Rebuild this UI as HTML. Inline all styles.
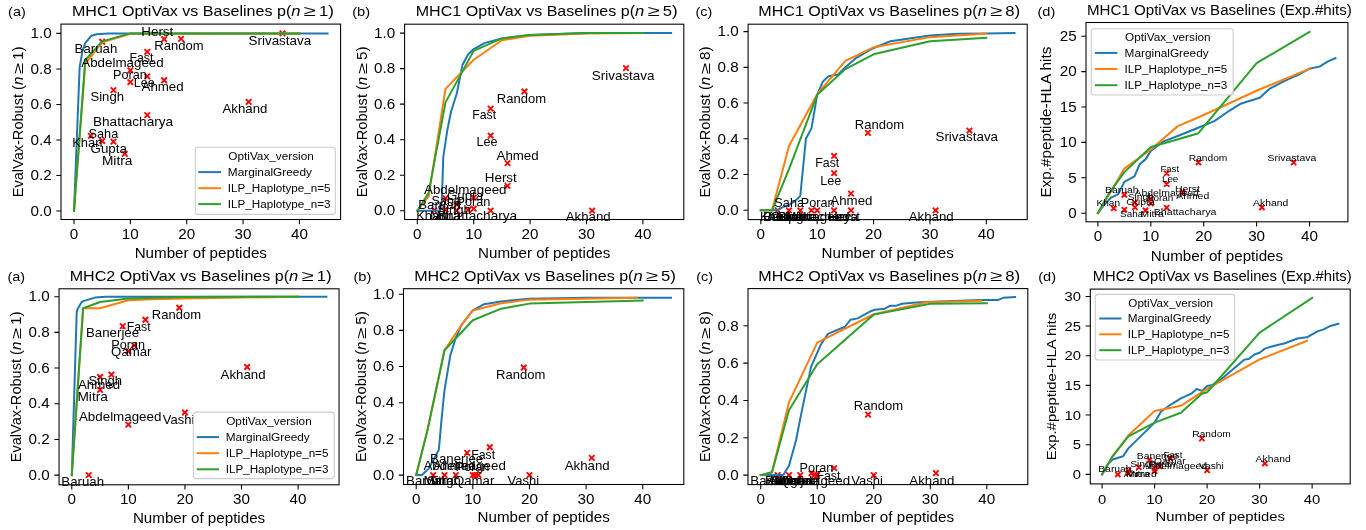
<!DOCTYPE html>
<html><head><meta charset="utf-8"><style>
html,body{margin:0;padding:0;background:#fff;}
svg{display:block;filter:blur(0.3px);}
text{font-family:"Liberation Sans",sans-serif;white-space:pre;}
</style></head><body>
<svg width="1366" height="530" viewBox="0 0 1366 530">
<rect width="1366" height="530" fill="#fff"/>
<clipPath id="c1"><rect x="61.0" y="24.1" width="279.6" height="195.4"/></clipPath>
<path d="M99.42,39.00L104.92,44.50M99.42,44.50L104.92,39.00M144.50,49.12L150.00,54.62M144.50,54.62L150.00,49.12M161.41,36.33L166.91,41.83M161.41,41.83L166.91,36.33M178.31,36.16L183.81,41.66M178.31,41.66L183.81,36.16M279.75,30.65L285.25,36.15M279.75,36.15L285.25,30.65M127.60,67.59L133.10,73.09M127.60,73.09L133.10,67.59M144.50,73.63L150.00,79.13M144.50,79.13L150.00,73.63M127.60,79.31L133.10,84.81M127.60,84.81L133.10,79.31M161.41,77.54L166.91,83.04M161.41,83.04L166.91,77.54M110.69,87.30L116.19,92.80M110.69,92.80L116.19,87.30M245.94,99.20L251.44,104.70M245.94,104.70L251.44,99.20M144.50,112.35L150.00,117.85M144.50,117.85L150.00,112.35M88.16,133.13L93.66,138.63M88.16,138.63L93.66,133.13M99.42,138.28L104.92,143.78M99.42,143.78L104.92,138.28M110.69,138.81L116.19,144.31M110.69,144.31L116.19,138.81M121.97,151.06L127.47,156.56M121.97,156.56L127.47,151.06" stroke="#ff0000" stroke-width="1.9" fill="none" clip-path="url(#c1)"/>
<path d="M74.00,211.00 L79.64,67.14 L82.45,51.16 L85.27,43.17 L90.91,36.06 L96.54,34.29 L107.81,33.40 L327.57,33.40" stroke="#1f77b4" stroke-width="2.0" fill="none" stroke-linejoin="round" stroke-linecap="square" clip-path="url(#c1)"/>
<path d="M74.00,211.00 L85.27,63.59 L102.17,42.28 L130.35,33.76 L299.40,33.40" stroke="#ff7f0e" stroke-width="2.0" fill="none" stroke-linejoin="round" stroke-linecap="square" clip-path="url(#c1)"/>
<path d="M74.00,211.00 L85.27,60.04 L102.17,41.39 L130.35,33.40 L299.40,33.40" stroke="#2ca02c" stroke-width="2.0" fill="none" stroke-linejoin="round" stroke-linecap="square" clip-path="url(#c1)"/>
<rect x="61.0" y="24.1" width="279.60" height="195.40" fill="none" stroke="#000" stroke-width="1.07"/>
<text x="69.77" y="238.80" font-size="13.83" textLength="8.46" lengthAdjust="spacingAndGlyphs" fill="#000">0</text>
<text x="121.89" y="238.80" font-size="13.83" textLength="16.92" lengthAdjust="spacingAndGlyphs" fill="#000">10</text>
<text x="178.24" y="238.80" font-size="13.83" textLength="16.92" lengthAdjust="spacingAndGlyphs" fill="#000">20</text>
<text x="234.59" y="238.80" font-size="13.83" textLength="16.92" lengthAdjust="spacingAndGlyphs" fill="#000">30</text>
<text x="290.94" y="238.80" font-size="13.83" textLength="16.92" lengthAdjust="spacingAndGlyphs" fill="#000">40</text>
<text x="30.52" y="215.75" font-size="13.83" textLength="21.15" lengthAdjust="spacingAndGlyphs" fill="#000">0.0</text>
<text x="30.52" y="180.23" font-size="13.83" textLength="21.15" lengthAdjust="spacingAndGlyphs" fill="#000">0.2</text>
<text x="30.52" y="144.71" font-size="13.83" textLength="21.15" lengthAdjust="spacingAndGlyphs" fill="#000">0.4</text>
<text x="30.52" y="109.19" font-size="13.83" textLength="21.15" lengthAdjust="spacingAndGlyphs" fill="#000">0.6</text>
<text x="30.52" y="73.67" font-size="13.83" textLength="21.15" lengthAdjust="spacingAndGlyphs" fill="#000">0.8</text>
<text x="30.52" y="38.15" font-size="13.83" textLength="21.15" lengthAdjust="spacingAndGlyphs" fill="#000">1.0</text>
<path d="M74.00,219.50v4.67M130.35,219.50v4.67M186.70,219.50v4.67M243.05,219.50v4.67M299.40,219.50v4.67M61.00,211.00h-4.67M61.00,175.48h-4.67M61.00,139.96h-4.67M61.00,104.44h-4.67M61.00,68.92h-4.67M61.00,33.40h-4.67" stroke="#000" stroke-width="1.07"/>
<text x="134.68" y="258.20" font-size="13.83" textLength="132.24" lengthAdjust="spacingAndGlyphs" fill="#000">Number of peptides</text>
<text x="141.26" y="36.40" font-size="12.38" textLength="32.03" lengthAdjust="spacingAndGlyphs" fill="#000">Herst</text>
<text x="74.56" y="53.10" font-size="12.38" textLength="42.73" lengthAdjust="spacingAndGlyphs" fill="#000">Baruah</text>
<text x="154.36" y="50.00" font-size="12.38" textLength="49.27" lengthAdjust="spacingAndGlyphs" fill="#000">Random</text>
<text x="248.58" y="44.90" font-size="12.38" textLength="62.58" lengthAdjust="spacingAndGlyphs" fill="#000">Srivastava</text>
<text x="81.23" y="67.00" font-size="12.38" textLength="82.51" lengthAdjust="spacingAndGlyphs" fill="#000">Abdelmageed</text>
<text x="129.46" y="62.40" font-size="12.38" textLength="23.91" lengthAdjust="spacingAndGlyphs" fill="#000">Fast</text>
<text x="112.96" y="79.40" font-size="12.38" textLength="33.76" lengthAdjust="spacingAndGlyphs" fill="#000">Poran</text>
<text x="133.66" y="87.00" font-size="12.38" textLength="21.06" lengthAdjust="spacingAndGlyphs" fill="#000">Lee</text>
<text x="141.53" y="90.80" font-size="12.38" textLength="42.15" lengthAdjust="spacingAndGlyphs" fill="#000">Ahmed</text>
<text x="90.48" y="100.60" font-size="12.38" textLength="33.50" lengthAdjust="spacingAndGlyphs" fill="#000">Singh</text>
<text x="222.43" y="113.20" font-size="12.38" textLength="44.96" lengthAdjust="spacingAndGlyphs" fill="#000">Akhand</text>
<text x="92.96" y="126.30" font-size="12.38" textLength="80.23" lengthAdjust="spacingAndGlyphs" fill="#000">Bhattacharya</text>
<text x="88.58" y="137.60" font-size="12.38" textLength="29.68" lengthAdjust="spacingAndGlyphs" fill="#000">Saha</text>
<text x="72.16" y="147.00" font-size="12.38" textLength="30.18" lengthAdjust="spacingAndGlyphs" fill="#000">Khan</text>
<text x="90.60" y="152.70" font-size="12.38" textLength="36.28" lengthAdjust="spacingAndGlyphs" fill="#000">Gupta</text>
<text x="101.96" y="165.00" font-size="12.38" textLength="30.42" lengthAdjust="spacingAndGlyphs" fill="#000">Mitra</text>
<rect x="195.3" y="147.2" width="140.00" height="67.20" rx="2.5" fill="#fff" fill-opacity="0.8" stroke="#cccccc" stroke-width="1.07"/>
<text x="228.32" y="160.20" font-size="11.02" textLength="85.49" lengthAdjust="spacingAndGlyphs" fill="#000">OptiVax_version</text>
<path d="M198.30,172.10H221.00" stroke="#1f77b4" stroke-width="2.0"/>
<text x="227.84" y="176.00" font-size="11.02" textLength="84.03" lengthAdjust="spacingAndGlyphs" fill="#000">MarginalGreedy</text>
<path d="M198.30,188.20H221.00" stroke="#ff7f0e" stroke-width="2.0"/>
<text x="227.84" y="192.10" font-size="11.02" textLength="102.67" lengthAdjust="spacingAndGlyphs" fill="#000">ILP_Haplotype_n=5</text>
<path d="M198.30,204.10H221.00" stroke="#2ca02c" stroke-width="2.0"/>
<text x="227.84" y="208.00" font-size="11.02" textLength="102.67" lengthAdjust="spacingAndGlyphs" fill="#000">ILP_Haplotype_n=3</text>
<g transform="translate(71.94,15.80)"><text x="0.00" y="0" font-size="15.18" textLength="219.32" lengthAdjust="spacingAndGlyphs">MHC1 OptiVax vs Baselines p(</text><text x="219.32" y="0" font-size="15.18" textLength="9.26" lengthAdjust="spacingAndGlyphs" font-style="italic">n</text><text x="231.65" y="0" font-size="15.18" textLength="12.23" lengthAdjust="spacingAndGlyphs">≥</text><text x="246.95" y="0" font-size="15.18" textLength="9.29" lengthAdjust="spacingAndGlyphs">1</text><text x="256.24" y="0" font-size="15.18" textLength="5.70" lengthAdjust="spacingAndGlyphs">)</text></g>
<text x="8.13" y="15.70" font-size="13.10" textLength="17.55" lengthAdjust="spacingAndGlyphs" fill="#000">(a)</text>
<g transform="translate(23.10,121.80) rotate(-90)"><text x="-75.52" y="0" font-size="13.83" textLength="112.22" lengthAdjust="spacingAndGlyphs">EvalVax-Robust (</text><text x="36.70" y="0" font-size="13.83" textLength="8.43" lengthAdjust="spacingAndGlyphs" font-style="italic">n</text><text x="47.93" y="0" font-size="13.83" textLength="11.15" lengthAdjust="spacingAndGlyphs">≥</text><text x="61.87" y="0" font-size="13.83" textLength="8.46" lengthAdjust="spacingAndGlyphs">1</text><text x="70.33" y="0" font-size="13.83" textLength="5.19" lengthAdjust="spacingAndGlyphs">)</text></g>
<clipPath id="c2"><rect x="404.6" y="24.2" width="279.19999999999993" height="195.3"/></clipPath>
<path d="M521.71,88.78L527.21,94.28M521.71,94.28L527.21,88.78M487.87,105.83L493.37,111.33M487.87,111.33L493.37,105.83M487.87,132.83L493.37,138.33M487.87,138.33L493.37,132.83M504.79,160.35L510.29,165.85M504.79,165.85L510.29,160.35M504.79,183.09L510.29,188.59M504.79,188.59L510.29,183.09M623.23,65.34L628.73,70.84M623.23,70.84L628.73,65.34M589.39,207.95L594.89,213.45M589.39,213.45L594.89,207.95M442.75,195.52L448.25,201.02M442.75,201.02L448.25,195.52M470.95,194.81L476.45,200.31M470.95,200.31L476.45,194.81M454.03,201.91L459.53,207.41M454.03,207.41L459.53,201.91M465.31,207.06L470.81,212.56M465.31,212.56L470.81,207.06M470.95,205.82L476.45,211.32M470.95,211.32L476.45,205.82M487.87,207.95L493.37,213.45M487.87,213.45L493.37,207.95M431.47,207.95L436.97,213.45M431.47,213.45L436.97,207.95M442.75,206.71L448.25,212.21M442.75,212.21L448.25,206.71M454.03,207.95L459.53,213.45M454.03,213.45L459.53,207.95" stroke="#ff0000" stroke-width="1.9" fill="none" clip-path="url(#c2)"/>
<path d="M417.30,210.70 L439.86,210.70 L441.83,201.82 L443.24,157.42 L447.19,130.78 L451.14,111.24 L456.78,93.48 L462.42,65.07 L468.06,54.41 L473.70,49.08 L484.98,42.87 L501.90,38.43 L530.10,34.88 L586.50,33.10 L671.10,33.10" stroke="#1f77b4" stroke-width="2.0" fill="none" stroke-linejoin="round" stroke-linecap="square" clip-path="url(#c2)"/>
<path d="M417.30,210.70 L428.58,196.49 L445.50,88.87 L473.70,59.74 L501.90,40.20 L530.10,35.76 L586.50,33.46 L642.90,33.10" stroke="#ff7f0e" stroke-width="2.0" fill="none" stroke-linejoin="round" stroke-linecap="square" clip-path="url(#c2)"/>
<path d="M417.30,210.70 L428.58,192.94 L445.50,102.36 L473.70,50.86 L501.90,38.43 L530.10,34.88 L586.50,33.10 L642.90,33.10" stroke="#2ca02c" stroke-width="2.0" fill="none" stroke-linejoin="round" stroke-linecap="square" clip-path="url(#c2)"/>
<rect x="404.6" y="24.2" width="279.20" height="195.30" fill="none" stroke="#000" stroke-width="1.07"/>
<text x="413.07" y="238.80" font-size="13.83" textLength="8.46" lengthAdjust="spacingAndGlyphs" fill="#000">0</text>
<text x="465.24" y="238.80" font-size="13.83" textLength="16.92" lengthAdjust="spacingAndGlyphs" fill="#000">10</text>
<text x="521.64" y="238.80" font-size="13.83" textLength="16.92" lengthAdjust="spacingAndGlyphs" fill="#000">20</text>
<text x="578.04" y="238.80" font-size="13.83" textLength="16.92" lengthAdjust="spacingAndGlyphs" fill="#000">30</text>
<text x="634.44" y="238.80" font-size="13.83" textLength="16.92" lengthAdjust="spacingAndGlyphs" fill="#000">40</text>
<text x="374.12" y="215.45" font-size="13.83" textLength="21.15" lengthAdjust="spacingAndGlyphs" fill="#000">0.0</text>
<text x="374.12" y="179.93" font-size="13.83" textLength="21.15" lengthAdjust="spacingAndGlyphs" fill="#000">0.2</text>
<text x="374.12" y="144.41" font-size="13.83" textLength="21.15" lengthAdjust="spacingAndGlyphs" fill="#000">0.4</text>
<text x="374.12" y="108.89" font-size="13.83" textLength="21.15" lengthAdjust="spacingAndGlyphs" fill="#000">0.6</text>
<text x="374.12" y="73.37" font-size="13.83" textLength="21.15" lengthAdjust="spacingAndGlyphs" fill="#000">0.8</text>
<text x="374.12" y="37.85" font-size="13.83" textLength="21.15" lengthAdjust="spacingAndGlyphs" fill="#000">1.0</text>
<path d="M417.30,219.50v4.67M473.70,219.50v4.67M530.10,219.50v4.67M586.50,219.50v4.67M642.90,219.50v4.67M404.60,210.70h-4.67M404.60,175.18h-4.67M404.60,139.66h-4.67M404.60,104.14h-4.67M404.60,68.62h-4.67M404.60,33.10h-4.67" stroke="#000" stroke-width="1.07"/>
<text x="478.08" y="258.20" font-size="13.83" textLength="132.24" lengthAdjust="spacingAndGlyphs" fill="#000">Number of peptides</text>
<text x="496.76" y="102.80" font-size="12.38" textLength="49.27" lengthAdjust="spacingAndGlyphs" fill="#000">Random</text>
<text x="472.26" y="119.20" font-size="12.38" textLength="23.91" lengthAdjust="spacingAndGlyphs" fill="#000">Fast</text>
<text x="476.56" y="146.30" font-size="12.38" textLength="21.06" lengthAdjust="spacingAndGlyphs" fill="#000">Lee</text>
<text x="496.53" y="159.50" font-size="12.38" textLength="42.15" lengthAdjust="spacingAndGlyphs" fill="#000">Ahmed</text>
<text x="484.76" y="182.10" font-size="12.38" textLength="32.03" lengthAdjust="spacingAndGlyphs" fill="#000">Herst</text>
<text x="424.03" y="194.40" font-size="12.38" textLength="82.51" lengthAdjust="spacingAndGlyphs" fill="#000">Abdelmageed</text>
<text x="446.90" y="199.50" font-size="12.38" textLength="36.28" lengthAdjust="spacingAndGlyphs" fill="#000">Gupta</text>
<text x="431.58" y="205.40" font-size="12.38" textLength="29.68" lengthAdjust="spacingAndGlyphs" fill="#000">Saha</text>
<text x="456.46" y="205.80" font-size="12.38" textLength="33.76" lengthAdjust="spacingAndGlyphs" fill="#000">Poran</text>
<text x="418.26" y="209.20" font-size="12.38" textLength="42.73" lengthAdjust="spacingAndGlyphs" fill="#000">Baruah</text>
<text x="437.38" y="213.90" font-size="12.38" textLength="33.50" lengthAdjust="spacingAndGlyphs" fill="#000">Singh</text>
<text x="416.16" y="220.30" font-size="12.38" textLength="30.18" lengthAdjust="spacingAndGlyphs" fill="#000">Khan</text>
<text x="429.96" y="220.30" font-size="12.38" textLength="30.42" lengthAdjust="spacingAndGlyphs" fill="#000">Mitra</text>
<text x="436.96" y="220.30" font-size="12.38" textLength="80.23" lengthAdjust="spacingAndGlyphs" fill="#000">Bhattacharya</text>
<text x="591.88" y="79.50" font-size="12.38" textLength="62.58" lengthAdjust="spacingAndGlyphs" fill="#000">Srivastava</text>
<text x="565.73" y="220.90" font-size="12.38" textLength="44.96" lengthAdjust="spacingAndGlyphs" fill="#000">Akhand</text>
<g transform="translate(415.74,15.90)"><text x="0.00" y="0" font-size="15.18" textLength="219.32" lengthAdjust="spacingAndGlyphs">MHC1 OptiVax vs Baselines p(</text><text x="219.32" y="0" font-size="15.18" textLength="9.26" lengthAdjust="spacingAndGlyphs" font-style="italic">n</text><text x="231.65" y="0" font-size="15.18" textLength="12.23" lengthAdjust="spacingAndGlyphs">≥</text><text x="246.95" y="0" font-size="15.18" textLength="9.29" lengthAdjust="spacingAndGlyphs">5</text><text x="256.24" y="0" font-size="15.18" textLength="5.70" lengthAdjust="spacingAndGlyphs">)</text></g>
<text x="352.23" y="15.70" font-size="13.10" textLength="17.83" lengthAdjust="spacingAndGlyphs" fill="#000">(b)</text>
<g transform="translate(366.70,121.85) rotate(-90)"><text x="-75.52" y="0" font-size="13.83" textLength="112.22" lengthAdjust="spacingAndGlyphs">EvalVax-Robust (</text><text x="36.70" y="0" font-size="13.83" textLength="8.43" lengthAdjust="spacingAndGlyphs" font-style="italic">n</text><text x="47.93" y="0" font-size="13.83" textLength="11.15" lengthAdjust="spacingAndGlyphs">≥</text><text x="61.87" y="0" font-size="13.83" textLength="8.46" lengthAdjust="spacingAndGlyphs">5</text><text x="70.33" y="0" font-size="13.83" textLength="5.19" lengthAdjust="spacingAndGlyphs">)</text></g>
<clipPath id="c3"><rect x="748.1" y="24.2" width="279.1" height="195.4"/></clipPath>
<path d="M865.17,130.17L870.67,135.67M865.17,135.67L870.67,130.17M831.34,153.05L836.84,158.55M831.34,158.55L836.84,153.05M831.34,170.38L836.84,175.88M831.34,175.88L836.84,170.38M848.26,190.93L853.76,196.43M848.26,196.43L853.76,190.93M966.66,127.85L972.16,133.35M966.66,133.35L972.16,127.85M932.83,207.55L938.33,213.05M932.83,213.05L938.33,207.55M774.96,207.55L780.46,213.05M774.96,213.05L780.46,207.55M786.24,207.55L791.74,213.05M786.24,213.05L791.74,207.55M797.52,207.55L803.02,213.05M797.52,213.05L803.02,207.55M808.79,207.55L814.29,213.05M808.79,213.05L814.29,207.55M814.43,207.55L819.93,213.05M814.43,213.05L819.93,207.55M831.34,207.55L836.84,213.05M831.34,213.05L836.84,207.55M848.26,207.55L853.76,213.05M848.26,213.05L853.76,207.55" stroke="#ff0000" stroke-width="1.9" fill="none" clip-path="url(#c3)"/>
<path d="M760.80,210.30 L772.08,210.30 L777.71,210.30 L783.35,206.73 L788.99,204.94 L794.63,201.37 L800.27,196.00 L805.90,138.82 L811.54,128.10 L817.18,94.86 L822.82,81.64 L828.46,76.28 L838.04,74.49 L845.37,67.34 L856.65,57.51 L871.87,48.76 L890.47,41.25 L929.94,35.53 L958.13,33.74 L986.32,33.39 L1014.51,33.03" stroke="#1f77b4" stroke-width="2.0" fill="none" stroke-linejoin="round" stroke-linecap="square" clip-path="url(#c3)"/>
<path d="M760.80,210.30 L772.08,210.30 L788.99,145.97 L817.18,94.15 L845.37,60.91 L873.56,47.33 L929.94,37.14 L986.32,33.57" stroke="#ff7f0e" stroke-width="2.0" fill="none" stroke-linejoin="round" stroke-linecap="square" clip-path="url(#c3)"/>
<path d="M760.80,210.30 L772.08,210.30 L788.99,169.20 L817.18,94.86 L845.37,69.13 L873.56,54.29 L929.94,41.25 L986.32,37.85" stroke="#2ca02c" stroke-width="2.0" fill="none" stroke-linejoin="round" stroke-linecap="square" clip-path="url(#c3)"/>
<rect x="748.1" y="24.2" width="279.10" height="195.40" fill="none" stroke="#000" stroke-width="1.07"/>
<text x="756.57" y="238.90" font-size="13.83" textLength="8.46" lengthAdjust="spacingAndGlyphs" fill="#000">0</text>
<text x="808.72" y="238.90" font-size="13.83" textLength="16.92" lengthAdjust="spacingAndGlyphs" fill="#000">10</text>
<text x="865.10" y="238.90" font-size="13.83" textLength="16.92" lengthAdjust="spacingAndGlyphs" fill="#000">20</text>
<text x="921.48" y="238.90" font-size="13.83" textLength="16.92" lengthAdjust="spacingAndGlyphs" fill="#000">30</text>
<text x="977.86" y="238.90" font-size="13.83" textLength="16.92" lengthAdjust="spacingAndGlyphs" fill="#000">40</text>
<text x="717.62" y="215.05" font-size="13.83" textLength="21.15" lengthAdjust="spacingAndGlyphs" fill="#000">0.0</text>
<text x="717.62" y="179.31" font-size="13.83" textLength="21.15" lengthAdjust="spacingAndGlyphs" fill="#000">0.2</text>
<text x="717.62" y="143.57" font-size="13.83" textLength="21.15" lengthAdjust="spacingAndGlyphs" fill="#000">0.4</text>
<text x="717.62" y="107.83" font-size="13.83" textLength="21.15" lengthAdjust="spacingAndGlyphs" fill="#000">0.6</text>
<text x="717.62" y="72.09" font-size="13.83" textLength="21.15" lengthAdjust="spacingAndGlyphs" fill="#000">0.8</text>
<text x="717.62" y="36.35" font-size="13.83" textLength="21.15" lengthAdjust="spacingAndGlyphs" fill="#000">1.0</text>
<path d="M760.80,219.60v4.67M817.18,219.60v4.67M873.56,219.60v4.67M929.94,219.60v4.67M986.32,219.60v4.67M748.10,210.30h-4.67M748.10,174.56h-4.67M748.10,138.82h-4.67M748.10,103.08h-4.67M748.10,67.34h-4.67M748.10,31.60h-4.67" stroke="#000" stroke-width="1.07"/>
<text x="821.53" y="258.30" font-size="13.83" textLength="132.24" lengthAdjust="spacingAndGlyphs" fill="#000">Number of peptides</text>
<text x="854.75" y="129.40" font-size="12.38" textLength="49.27" lengthAdjust="spacingAndGlyphs" fill="#000">Random</text>
<text x="815.36" y="166.80" font-size="12.38" textLength="23.91" lengthAdjust="spacingAndGlyphs" fill="#000">Fast</text>
<text x="820.26" y="184.60" font-size="12.38" textLength="21.06" lengthAdjust="spacingAndGlyphs" fill="#000">Lee</text>
<text x="830.33" y="204.60" font-size="12.38" textLength="42.15" lengthAdjust="spacingAndGlyphs" fill="#000">Ahmed</text>
<text x="774.38" y="206.90" font-size="12.38" textLength="29.68" lengthAdjust="spacingAndGlyphs" fill="#000">Saha</text>
<text x="800.86" y="206.90" font-size="12.38" textLength="33.76" lengthAdjust="spacingAndGlyphs" fill="#000">Poran</text>
<text x="935.48" y="141.30" font-size="12.38" textLength="62.58" lengthAdjust="spacingAndGlyphs" fill="#000">Srivastava</text>
<text x="908.73" y="220.80" font-size="12.38" textLength="44.96" lengthAdjust="spacingAndGlyphs" fill="#000">Akhand</text>
<text x="759.96" y="220.80" font-size="12.38" textLength="30.18" lengthAdjust="spacingAndGlyphs" fill="#000">Khan</text>
<text x="762.96" y="220.80" font-size="12.38" textLength="42.73" lengthAdjust="spacingAndGlyphs" fill="#000">Baruah</text>
<text x="770.50" y="220.80" font-size="12.38" textLength="36.28" lengthAdjust="spacingAndGlyphs" fill="#000">Gupta</text>
<text x="777.38" y="220.80" font-size="12.38" textLength="33.50" lengthAdjust="spacingAndGlyphs" fill="#000">Singh</text>
<text x="784.96" y="220.80" font-size="12.38" textLength="30.42" lengthAdjust="spacingAndGlyphs" fill="#000">Mitra</text>
<text x="767.03" y="220.80" font-size="12.38" textLength="82.51" lengthAdjust="spacingAndGlyphs" fill="#000">Abdelmageed</text>
<text x="777.96" y="220.80" font-size="12.38" textLength="80.23" lengthAdjust="spacingAndGlyphs" fill="#000">Bhattacharya</text>
<text x="827.94" y="220.80" font-size="12.38" textLength="32.03" lengthAdjust="spacingAndGlyphs" fill="#000">Herst</text>
<g transform="translate(758.34,15.90)"><text x="0.00" y="0" font-size="15.18" textLength="219.32" lengthAdjust="spacingAndGlyphs">MHC1 OptiVax vs Baselines p(</text><text x="219.32" y="0" font-size="15.18" textLength="9.26" lengthAdjust="spacingAndGlyphs" font-style="italic">n</text><text x="231.65" y="0" font-size="15.18" textLength="12.23" lengthAdjust="spacingAndGlyphs">≥</text><text x="246.95" y="0" font-size="15.18" textLength="9.29" lengthAdjust="spacingAndGlyphs">8</text><text x="256.24" y="0" font-size="15.18" textLength="5.70" lengthAdjust="spacingAndGlyphs">)</text></g>
<text x="695.53" y="15.70" font-size="13.10" textLength="16.76" lengthAdjust="spacingAndGlyphs" fill="#000">(c)</text>
<g transform="translate(710.20,121.90) rotate(-90)"><text x="-75.52" y="0" font-size="13.83" textLength="112.22" lengthAdjust="spacingAndGlyphs">EvalVax-Robust (</text><text x="36.70" y="0" font-size="13.83" textLength="8.43" lengthAdjust="spacingAndGlyphs" font-style="italic">n</text><text x="47.93" y="0" font-size="13.83" textLength="11.15" lengthAdjust="spacingAndGlyphs">≥</text><text x="61.87" y="0" font-size="13.83" textLength="8.46" lengthAdjust="spacingAndGlyphs">8</text><text x="70.33" y="0" font-size="13.83" textLength="5.19" lengthAdjust="spacingAndGlyphs">)</text></g>
<clipPath id="c4"><rect x="1086.0" y="22.5" width="261.9000000000001" height="199.3"/></clipPath>
<path d="M1195.83,159.77L1201.03,164.97M1195.83,164.97L1201.03,159.77M1291.07,159.91L1296.27,165.11M1291.07,165.11L1296.27,159.91M1259.32,204.79L1264.52,209.99M1259.32,209.99L1264.52,204.79M1164.08,170.60L1169.28,175.80M1164.08,175.80L1169.28,170.60M1164.08,181.50L1169.28,186.70M1164.08,186.70L1169.28,181.50M1179.96,189.22L1185.16,194.42M1179.96,194.42L1185.16,189.22M1179.96,190.07L1185.16,195.27M1179.96,195.27L1185.16,190.07M1121.76,192.33L1126.95,197.53M1121.76,197.53L1126.95,192.33M1111.17,205.71L1116.37,210.91M1111.17,210.91L1116.37,205.71M1121.76,207.06L1126.95,212.26M1121.76,212.26L1126.95,207.06M1132.34,199.98L1137.54,205.18M1132.34,205.18L1137.54,199.98M1132.34,204.72L1137.54,209.92M1132.34,209.92L1137.54,204.72M1142.92,207.77L1148.12,212.97M1142.92,212.97L1148.12,207.77M1148.21,196.23L1153.41,201.43M1148.21,201.43L1153.41,196.23M1148.21,200.83L1153.41,206.03M1148.21,206.03L1153.41,200.83M1164.08,205.08L1169.28,210.28M1164.08,210.28L1169.28,205.08" stroke="#ff0000" stroke-width="1.9" fill="none" clip-path="url(#c4)"/>
<path d="M1097.90,213.20 L1103.19,206.12 L1110.60,197.98 L1118.27,194.08 L1124.36,181.84 L1134.41,176.38 L1139.86,163.99 L1145.52,159.39 L1150.81,150.90 L1162.98,141.69 L1176.47,136.52 L1195.78,128.74 L1214.30,121.16 L1229.65,110.54 L1241.29,103.46 L1259.80,97.80 L1269.86,88.59 L1285.73,80.45 L1300.02,74.01 L1309.01,68.77 L1319.59,66.64 L1327.53,61.69 L1335.47,58.15" stroke="#1f77b4" stroke-width="2.0" fill="none" stroke-linejoin="round" stroke-linecap="square" clip-path="url(#c4)"/>
<path d="M1097.90,213.20 L1115.20,184.17 L1124.36,168.60 L1150.81,149.48 L1177.79,126.12 L1202.66,115.50 L1258.22,90.01 L1309.54,68.77" stroke="#ff7f0e" stroke-width="2.0" fill="none" stroke-linejoin="round" stroke-linecap="square" clip-path="url(#c4)"/>
<path d="M1097.90,213.20 L1108.48,194.08 L1124.36,172.14 L1150.81,147.00 L1177.27,139.57 L1198.43,133.20 L1256.63,63.10 L1309.54,31.95" stroke="#2ca02c" stroke-width="2.0" fill="none" stroke-linejoin="round" stroke-linecap="square" clip-path="url(#c4)"/>
<rect x="1086.0" y="22.5" width="261.90" height="199.30" fill="none" stroke="#000" stroke-width="1.07"/>
<text x="1093.67" y="241.10" font-size="13.83" textLength="8.46" lengthAdjust="spacingAndGlyphs" fill="#000">0</text>
<text x="1142.35" y="241.10" font-size="13.83" textLength="16.92" lengthAdjust="spacingAndGlyphs" fill="#000">10</text>
<text x="1195.26" y="241.10" font-size="13.83" textLength="16.92" lengthAdjust="spacingAndGlyphs" fill="#000">20</text>
<text x="1248.17" y="241.10" font-size="13.83" textLength="16.92" lengthAdjust="spacingAndGlyphs" fill="#000">30</text>
<text x="1301.08" y="241.10" font-size="13.83" textLength="16.92" lengthAdjust="spacingAndGlyphs" fill="#000">40</text>
<text x="1068.21" y="217.95" font-size="13.83" textLength="8.46" lengthAdjust="spacingAndGlyphs" fill="#000">0</text>
<text x="1068.21" y="182.55" font-size="13.83" textLength="8.46" lengthAdjust="spacingAndGlyphs" fill="#000">5</text>
<text x="1059.75" y="147.15" font-size="13.83" textLength="16.92" lengthAdjust="spacingAndGlyphs" fill="#000">10</text>
<text x="1059.75" y="111.75" font-size="13.83" textLength="16.92" lengthAdjust="spacingAndGlyphs" fill="#000">15</text>
<text x="1059.75" y="76.35" font-size="13.83" textLength="16.92" lengthAdjust="spacingAndGlyphs" fill="#000">20</text>
<text x="1059.75" y="40.95" font-size="13.83" textLength="16.92" lengthAdjust="spacingAndGlyphs" fill="#000">25</text>
<path d="M1097.90,221.80v4.67M1150.81,221.80v4.67M1203.72,221.80v4.67M1256.63,221.80v4.67M1309.54,221.80v4.67M1086.00,213.20h-4.67M1086.00,177.80h-4.67M1086.00,142.40h-4.67M1086.00,107.00h-4.67M1086.00,71.60h-4.67M1086.00,36.20h-4.67" stroke="#000" stroke-width="1.07"/>
<text x="1150.83" y="260.50" font-size="13.83" textLength="132.24" lengthAdjust="spacingAndGlyphs" fill="#000">Number of peptides</text>
<text x="1188.82" y="160.80" font-size="9.67" textLength="38.50" lengthAdjust="spacingAndGlyphs" fill="#000">Random</text>
<text x="1267.45" y="160.80" font-size="9.67" textLength="48.91" lengthAdjust="spacingAndGlyphs" fill="#000">Srivastava</text>
<text x="1253.06" y="205.80" font-size="9.67" textLength="35.14" lengthAdjust="spacingAndGlyphs" fill="#000">Akhand</text>
<text x="1160.42" y="171.70" font-size="9.67" textLength="18.69" lengthAdjust="spacingAndGlyphs" fill="#000">Fast</text>
<text x="1161.92" y="182.20" font-size="9.67" textLength="16.46" lengthAdjust="spacingAndGlyphs" fill="#000">Lee</text>
<text x="1174.92" y="191.80" font-size="9.67" textLength="25.03" lengthAdjust="spacingAndGlyphs" fill="#000">Herst</text>
<text x="1176.26" y="198.80" font-size="9.67" textLength="32.94" lengthAdjust="spacingAndGlyphs" fill="#000">Ahmed</text>
<text x="1134.46" y="195.70" font-size="9.67" textLength="64.48" lengthAdjust="spacingAndGlyphs" fill="#000">Abdelmageed</text>
<text x="1105.02" y="192.60" font-size="9.67" textLength="33.39" lengthAdjust="spacingAndGlyphs" fill="#000">Baruah</text>
<text x="1127.75" y="200.30" font-size="9.67" textLength="26.18" lengthAdjust="spacingAndGlyphs" fill="#000">Singh</text>
<text x="1146.82" y="201.10" font-size="9.67" textLength="26.38" lengthAdjust="spacingAndGlyphs" fill="#000">Poran</text>
<text x="1126.34" y="205.00" font-size="9.67" textLength="28.35" lengthAdjust="spacingAndGlyphs" fill="#000">Gupta</text>
<text x="1096.52" y="205.70" font-size="9.67" textLength="23.59" lengthAdjust="spacingAndGlyphs" fill="#000">Khan</text>
<text x="1153.72" y="215.00" font-size="9.67" textLength="62.70" lengthAdjust="spacingAndGlyphs" fill="#000">Bhattacharya</text>
<text x="1120.05" y="217.30" font-size="9.67" textLength="23.20" lengthAdjust="spacingAndGlyphs" fill="#000">Saha</text>
<text x="1140.27" y="217.30" font-size="9.67" textLength="23.78" lengthAdjust="spacingAndGlyphs" fill="#000">Mitra</text>
<rect x="1091.3" y="28.75" width="141.90" height="66.25" rx="2.5" fill="#fff" fill-opacity="0.8" stroke="#cccccc" stroke-width="1.07"/>
<text x="1125.12" y="40.80" font-size="11.02" textLength="85.49" lengthAdjust="spacingAndGlyphs" fill="#000">OptiVax_version</text>
<path d="M1094.90,52.90H1117.40" stroke="#1f77b4" stroke-width="2.0"/>
<text x="1124.64" y="56.80" font-size="11.02" textLength="84.03" lengthAdjust="spacingAndGlyphs" fill="#000">MarginalGreedy</text>
<path d="M1094.90,69.00H1117.40" stroke="#ff7f0e" stroke-width="2.0"/>
<text x="1124.64" y="72.90" font-size="11.02" textLength="102.67" lengthAdjust="spacingAndGlyphs" fill="#000">ILP_Haplotype_n=5</text>
<path d="M1094.90,85.20H1117.40" stroke="#2ca02c" stroke-width="2.0"/>
<text x="1124.64" y="89.10" font-size="11.02" textLength="102.67" lengthAdjust="spacingAndGlyphs" fill="#000">ILP_Haplotype_n=3</text>
<text x="1087.05" y="15.20" font-size="14.04" textLength="264.82" lengthAdjust="spacingAndGlyphs" fill="#000">MHC1 OptiVax vs Baselines (Exp.#hits)</text>
<text x="1037.53" y="15.80" font-size="13.10" textLength="17.83" lengthAdjust="spacingAndGlyphs" fill="#000">(d)</text>
<g transform="translate(1050.60,122.15) rotate(-90)"><text x="-75.40" y="0" font-size="13.83" textLength="150.80" lengthAdjust="spacingAndGlyphs">Exp.#peptide-HLA hits</text></g>
<clipPath id="c5"><rect x="59.05" y="288.8" width="280.0" height="196.0"/></clipPath>
<path d="M176.53,305.01L182.03,310.51M176.53,310.51L182.03,305.01M142.59,316.96L148.09,322.46M142.59,322.46L148.09,316.96M119.96,323.39L125.46,328.89M119.96,328.89L125.46,323.39M131.28,342.65L136.78,348.15M131.28,348.15L136.78,342.65M125.62,348.54L131.12,354.04M125.62,354.04L131.12,348.54M97.33,374.23L102.83,379.73M97.33,379.73L102.83,374.23M108.65,371.91L114.15,377.41M108.65,377.41L114.15,371.91M97.33,387.07L102.83,392.57M97.33,392.57L102.83,387.07M125.62,421.95L131.12,427.45M125.62,427.45L131.12,421.95M182.19,409.73L187.69,415.23M182.19,415.23L187.69,409.73M244.42,364.24L249.92,369.74M244.42,369.74L249.92,364.24M86.02,472.35L91.52,477.85M86.02,477.85L91.52,472.35" stroke="#ff0000" stroke-width="1.9" fill="none" clip-path="url(#c5)"/>
<path d="M71.80,475.10 L76.72,312.04 L77.46,309.19 L81.42,302.41 L83.11,301.16 L94.99,297.59 L105.74,296.70 L326.37,296.70" stroke="#1f77b4" stroke-width="2.0" fill="none" stroke-linejoin="round" stroke-linecap="square" clip-path="url(#c5)"/>
<path d="M71.80,475.10 L83.11,308.30 L100.08,308.30 L128.37,300.27 L152.70,299.20 L184.94,298.48 L241.51,297.59 L298.08,296.70" stroke="#ff7f0e" stroke-width="2.0" fill="none" stroke-linejoin="round" stroke-linecap="square" clip-path="url(#c5)"/>
<path d="M71.80,475.10 L83.11,308.30 L100.08,302.05 L128.37,298.48 L184.94,297.06 L298.08,296.70" stroke="#2ca02c" stroke-width="2.0" fill="none" stroke-linejoin="round" stroke-linecap="square" clip-path="url(#c5)"/>
<rect x="59.05" y="288.8" width="280.00" height="196.00" fill="none" stroke="#000" stroke-width="1.07"/>
<text x="67.57" y="504.10" font-size="13.83" textLength="8.46" lengthAdjust="spacingAndGlyphs" fill="#000">0</text>
<text x="119.91" y="504.10" font-size="13.83" textLength="16.92" lengthAdjust="spacingAndGlyphs" fill="#000">10</text>
<text x="176.48" y="504.10" font-size="13.83" textLength="16.92" lengthAdjust="spacingAndGlyphs" fill="#000">20</text>
<text x="233.05" y="504.10" font-size="13.83" textLength="16.92" lengthAdjust="spacingAndGlyphs" fill="#000">30</text>
<text x="289.62" y="504.10" font-size="13.83" textLength="16.92" lengthAdjust="spacingAndGlyphs" fill="#000">40</text>
<text x="28.57" y="479.85" font-size="13.83" textLength="21.15" lengthAdjust="spacingAndGlyphs" fill="#000">0.0</text>
<text x="28.57" y="444.17" font-size="13.83" textLength="21.15" lengthAdjust="spacingAndGlyphs" fill="#000">0.2</text>
<text x="28.57" y="408.49" font-size="13.83" textLength="21.15" lengthAdjust="spacingAndGlyphs" fill="#000">0.4</text>
<text x="28.57" y="372.81" font-size="13.83" textLength="21.15" lengthAdjust="spacingAndGlyphs" fill="#000">0.6</text>
<text x="28.57" y="337.13" font-size="13.83" textLength="21.15" lengthAdjust="spacingAndGlyphs" fill="#000">0.8</text>
<text x="28.57" y="301.45" font-size="13.83" textLength="21.15" lengthAdjust="spacingAndGlyphs" fill="#000">1.0</text>
<path d="M71.80,484.80v4.67M128.37,484.80v4.67M184.94,484.80v4.67M241.51,484.80v4.67M298.08,484.80v4.67M59.05,475.10h-4.67M59.05,439.42h-4.67M59.05,403.74h-4.67M59.05,368.06h-4.67M59.05,332.38h-4.67M59.05,296.70h-4.67" stroke="#000" stroke-width="1.07"/>
<text x="132.93" y="522.50" font-size="13.83" textLength="132.24" lengthAdjust="spacingAndGlyphs" fill="#000">Number of peptides</text>
<text x="151.76" y="319.20" font-size="12.38" textLength="49.27" lengthAdjust="spacingAndGlyphs" fill="#000">Random</text>
<text x="126.76" y="330.80" font-size="12.38" textLength="23.91" lengthAdjust="spacingAndGlyphs" fill="#000">Fast</text>
<text x="85.96" y="336.90" font-size="12.38" textLength="53.16" lengthAdjust="spacingAndGlyphs" fill="#000">Banerjee</text>
<text x="111.36" y="348.50" font-size="12.38" textLength="33.76" lengthAdjust="spacingAndGlyphs" fill="#000">Poran</text>
<text x="111.10" y="356.20" font-size="12.38" textLength="40.44" lengthAdjust="spacingAndGlyphs" fill="#000">Qamar</text>
<text x="88.58" y="385.00" font-size="12.38" textLength="33.50" lengthAdjust="spacingAndGlyphs" fill="#000">Singh</text>
<text x="77.93" y="388.70" font-size="12.38" textLength="42.15" lengthAdjust="spacingAndGlyphs" fill="#000">Ahmed</text>
<text x="77.46" y="401.00" font-size="12.38" textLength="30.42" lengthAdjust="spacingAndGlyphs" fill="#000">Mitra</text>
<text x="78.93" y="421.40" font-size="12.38" textLength="82.51" lengthAdjust="spacingAndGlyphs" fill="#000">Abdelmageed</text>
<text x="162.83" y="423.60" font-size="12.38" textLength="31.56" lengthAdjust="spacingAndGlyphs" fill="#000">Vashi</text>
<text x="220.63" y="379.00" font-size="12.38" textLength="44.96" lengthAdjust="spacingAndGlyphs" fill="#000">Akhand</text>
<text x="61.36" y="485.80" font-size="12.38" textLength="42.73" lengthAdjust="spacingAndGlyphs" fill="#000">Baruah</text>
<rect x="193.4" y="412.1" width="140.90" height="66.50" rx="2.5" fill="#fff" fill-opacity="0.8" stroke="#cccccc" stroke-width="1.07"/>
<text x="226.22" y="425.10" font-size="11.02" textLength="85.49" lengthAdjust="spacingAndGlyphs" fill="#000">OptiVax_version</text>
<path d="M196.70,437.10H219.00" stroke="#1f77b4" stroke-width="2.0"/>
<text x="225.74" y="441.00" font-size="11.02" textLength="84.03" lengthAdjust="spacingAndGlyphs" fill="#000">MarginalGreedy</text>
<path d="M196.70,453.20H219.00" stroke="#ff7f0e" stroke-width="2.0"/>
<text x="225.74" y="457.10" font-size="11.02" textLength="102.67" lengthAdjust="spacingAndGlyphs" fill="#000">ILP_Haplotype_n=5</text>
<path d="M196.70,469.30H219.00" stroke="#2ca02c" stroke-width="2.0"/>
<text x="225.74" y="473.20" font-size="11.02" textLength="102.67" lengthAdjust="spacingAndGlyphs" fill="#000">ILP_Haplotype_n=3</text>
<g transform="translate(69.74,280.90)"><text x="0.00" y="0" font-size="15.18" textLength="219.32" lengthAdjust="spacingAndGlyphs">MHC2 OptiVax vs Baselines p(</text><text x="219.32" y="0" font-size="15.18" textLength="9.26" lengthAdjust="spacingAndGlyphs" font-style="italic">n</text><text x="231.65" y="0" font-size="15.18" textLength="12.23" lengthAdjust="spacingAndGlyphs">≥</text><text x="246.95" y="0" font-size="15.18" textLength="9.29" lengthAdjust="spacingAndGlyphs">1</text><text x="256.24" y="0" font-size="15.18" textLength="5.70" lengthAdjust="spacingAndGlyphs">)</text></g>
<text x="7.43" y="281.30" font-size="13.10" textLength="17.55" lengthAdjust="spacingAndGlyphs" fill="#000">(a)</text>
<g transform="translate(21.15,386.80) rotate(-90)"><text x="-75.52" y="0" font-size="13.83" textLength="112.22" lengthAdjust="spacingAndGlyphs">EvalVax-Robust (</text><text x="36.70" y="0" font-size="13.83" textLength="8.43" lengthAdjust="spacingAndGlyphs" font-style="italic">n</text><text x="47.93" y="0" font-size="13.83" textLength="11.15" lengthAdjust="spacingAndGlyphs">≥</text><text x="61.87" y="0" font-size="13.83" textLength="8.46" lengthAdjust="spacingAndGlyphs">1</text><text x="70.33" y="0" font-size="13.83" textLength="5.19" lengthAdjust="spacingAndGlyphs">)</text></g>
<clipPath id="c6"><rect x="403.5" y="288.7" width="280.29999999999995" height="195.8"/></clipPath>
<path d="M521.05,364.71L526.55,370.21M521.05,370.21L526.55,364.71M589.00,455.16L594.50,460.66M589.00,460.66L594.50,455.16M487.07,444.49L492.57,449.99M487.07,449.99L492.57,444.49M464.42,450.10L469.92,455.60M464.42,455.60L469.92,450.10M430.44,472.35L435.94,477.85M430.44,477.85L435.94,472.35M441.76,472.35L447.26,477.85M441.76,477.85L447.26,472.35M453.09,472.35L458.59,477.85M453.09,477.85L458.59,472.35M470.08,472.35L475.58,477.85M470.08,477.85L475.58,472.35M472.35,472.35L477.85,477.85M472.35,477.85L477.85,472.35M475.74,472.35L481.24,477.85M475.74,477.85L481.24,472.35M526.71,472.35L532.21,477.85M526.71,477.85L532.21,472.35" stroke="#ff0000" stroke-width="1.9" fill="none" clip-path="url(#c6)"/>
<path d="M416.20,475.10 L421.86,475.10 L428.66,468.77 L438.85,449.77 L441.40,420.83 L444.51,390.08 L450.18,356.07 L455.84,337.62 L461.50,324.95 L472.83,310.48 L484.16,304.15 L501.14,301.44 L529.46,298.72 L586.09,297.82 L671.03,297.64" stroke="#1f77b4" stroke-width="2.0" fill="none" stroke-linejoin="round" stroke-linecap="square" clip-path="url(#c6)"/>
<path d="M416.20,475.10 L427.53,429.88 L444.51,350.28 L461.50,324.95 L472.83,310.48 L501.14,303.25 L529.46,299.63 L637.06,297.82" stroke="#ff7f0e" stroke-width="2.0" fill="none" stroke-linejoin="round" stroke-linecap="square" clip-path="url(#c6)"/>
<path d="M416.20,475.10 L427.53,429.88 L444.51,350.28 L472.83,320.25 L501.14,308.67 L529.46,303.61 L642.72,300.53" stroke="#2ca02c" stroke-width="2.0" fill="none" stroke-linejoin="round" stroke-linecap="square" clip-path="url(#c6)"/>
<rect x="403.5" y="288.7" width="280.30" height="195.80" fill="none" stroke="#000" stroke-width="1.07"/>
<text x="411.97" y="503.80" font-size="13.83" textLength="8.46" lengthAdjust="spacingAndGlyphs" fill="#000">0</text>
<text x="464.37" y="503.80" font-size="13.83" textLength="16.92" lengthAdjust="spacingAndGlyphs" fill="#000">10</text>
<text x="521.00" y="503.80" font-size="13.83" textLength="16.92" lengthAdjust="spacingAndGlyphs" fill="#000">20</text>
<text x="577.63" y="503.80" font-size="13.83" textLength="16.92" lengthAdjust="spacingAndGlyphs" fill="#000">30</text>
<text x="634.26" y="503.80" font-size="13.83" textLength="16.92" lengthAdjust="spacingAndGlyphs" fill="#000">40</text>
<text x="373.02" y="479.85" font-size="13.83" textLength="21.15" lengthAdjust="spacingAndGlyphs" fill="#000">0.0</text>
<text x="373.02" y="443.67" font-size="13.83" textLength="21.15" lengthAdjust="spacingAndGlyphs" fill="#000">0.2</text>
<text x="373.02" y="407.49" font-size="13.83" textLength="21.15" lengthAdjust="spacingAndGlyphs" fill="#000">0.4</text>
<text x="373.02" y="371.31" font-size="13.83" textLength="21.15" lengthAdjust="spacingAndGlyphs" fill="#000">0.6</text>
<text x="373.02" y="335.13" font-size="13.83" textLength="21.15" lengthAdjust="spacingAndGlyphs" fill="#000">0.8</text>
<text x="373.02" y="298.95" font-size="13.83" textLength="21.15" lengthAdjust="spacingAndGlyphs" fill="#000">1.0</text>
<path d="M416.20,484.50v4.67M472.83,484.50v4.67M529.46,484.50v4.67M586.09,484.50v4.67M642.72,484.50v4.67M403.50,475.10h-4.67M403.50,438.92h-4.67M403.50,402.74h-4.67M403.50,366.56h-4.67M403.50,330.38h-4.67M403.50,294.20h-4.67" stroke="#000" stroke-width="1.07"/>
<text x="477.53" y="522.20" font-size="13.83" textLength="132.24" lengthAdjust="spacingAndGlyphs" fill="#000">Number of peptides</text>
<text x="496.06" y="379.10" font-size="12.38" textLength="49.27" lengthAdjust="spacingAndGlyphs" fill="#000">Random</text>
<text x="564.73" y="470.00" font-size="12.38" textLength="44.96" lengthAdjust="spacingAndGlyphs" fill="#000">Akhand</text>
<text x="471.16" y="459.00" font-size="12.38" textLength="23.91" lengthAdjust="spacingAndGlyphs" fill="#000">Fast</text>
<text x="430.06" y="463.30" font-size="12.38" textLength="53.16" lengthAdjust="spacingAndGlyphs" fill="#000">Banerjee</text>
<text x="423.43" y="470.30" font-size="12.38" textLength="82.51" lengthAdjust="spacingAndGlyphs" fill="#000">Abdelmageed</text>
<text x="433.33" y="470.30" font-size="12.38" textLength="42.15" lengthAdjust="spacingAndGlyphs" fill="#000">Ahmed</text>
<text x="455.56" y="471.10" font-size="12.38" textLength="33.76" lengthAdjust="spacingAndGlyphs" fill="#000">Poran</text>
<text x="427.38" y="485.20" font-size="12.38" textLength="33.50" lengthAdjust="spacingAndGlyphs" fill="#000">Singh</text>
<text x="406.06" y="485.20" font-size="12.38" textLength="42.73" lengthAdjust="spacingAndGlyphs" fill="#000">Baruah</text>
<text x="423.46" y="485.20" font-size="12.38" textLength="30.42" lengthAdjust="spacingAndGlyphs" fill="#000">Mitra</text>
<text x="453.91" y="485.20" font-size="12.38" textLength="40.44" lengthAdjust="spacingAndGlyphs" fill="#000">Qamar</text>
<text x="507.63" y="485.20" font-size="12.38" textLength="31.56" lengthAdjust="spacingAndGlyphs" fill="#000">Vashi</text>
<g transform="translate(414.14,280.90)"><text x="0.00" y="0" font-size="15.18" textLength="219.32" lengthAdjust="spacingAndGlyphs">MHC2 OptiVax vs Baselines p(</text><text x="219.32" y="0" font-size="15.18" textLength="9.26" lengthAdjust="spacingAndGlyphs" font-style="italic">n</text><text x="231.65" y="0" font-size="15.18" textLength="12.23" lengthAdjust="spacingAndGlyphs">≥</text><text x="246.95" y="0" font-size="15.18" textLength="9.29" lengthAdjust="spacingAndGlyphs">5</text><text x="256.24" y="0" font-size="15.18" textLength="5.70" lengthAdjust="spacingAndGlyphs">)</text></g>
<text x="353.43" y="281.30" font-size="13.10" textLength="17.83" lengthAdjust="spacingAndGlyphs" fill="#000">(b)</text>
<g transform="translate(365.60,386.60) rotate(-90)"><text x="-75.52" y="0" font-size="13.83" textLength="112.22" lengthAdjust="spacingAndGlyphs">EvalVax-Robust (</text><text x="36.70" y="0" font-size="13.83" textLength="8.43" lengthAdjust="spacingAndGlyphs" font-style="italic">n</text><text x="47.93" y="0" font-size="13.83" textLength="11.15" lengthAdjust="spacingAndGlyphs">≥</text><text x="61.87" y="0" font-size="13.83" textLength="8.46" lengthAdjust="spacingAndGlyphs">5</text><text x="70.33" y="0" font-size="13.83" textLength="5.19" lengthAdjust="spacingAndGlyphs">)</text></g>
<clipPath id="c7"><rect x="748.0" y="288.6" width="279.79999999999995" height="196.0"/></clipPath>
<path d="M865.36,411.89L870.86,417.39M865.36,417.39L870.86,411.89M831.44,465.45L836.94,470.95M831.44,470.95L836.94,465.45M933.19,470.30L938.69,475.80M933.19,475.80L938.69,470.30M774.91,472.35L780.41,477.85M774.91,477.85L780.41,472.35M786.22,472.35L791.72,477.85M786.22,477.85L791.72,472.35M797.52,472.35L803.02,477.85M797.52,477.85L803.02,472.35M808.83,470.48L814.33,475.98M808.83,475.98L814.33,470.48M811.65,472.35L817.15,477.85M811.65,477.85L817.15,472.35M814.48,472.35L819.98,477.85M814.48,477.85L819.98,472.35M871.01,472.35L876.51,477.85M871.01,477.85L876.51,472.35" stroke="#ff0000" stroke-width="1.9" fill="none" clip-path="url(#c7)"/>
<path d="M760.70,475.10 L783.31,475.10 L788.97,465.77 L796.09,440.02 L801.06,414.64 L811.01,366.87 L820.90,344.48 L827.97,333.84 L844.93,326.75 L850.58,319.66 L857.65,318.36 L870.37,311.27 L874.89,309.77 L885.07,308.65 L890.15,305.67 L896.37,305.67 L902.03,303.80 L912.77,302.68 L926.05,301.94 L980.88,299.88 L997.56,300.07 L1003.21,297.83 L1015.09,297.08" stroke="#1f77b4" stroke-width="2.0" fill="none" stroke-linejoin="round" stroke-linecap="square" clip-path="url(#c7)"/>
<path d="M760.70,475.10 L772.01,472.30 L788.97,402.33 L817.23,342.61 L873.76,314.25 L926.90,302.31 L981.17,300.82" stroke="#ff7f0e" stroke-width="2.0" fill="none" stroke-linejoin="round" stroke-linecap="square" clip-path="url(#c7)"/>
<path d="M760.70,475.10 L772.01,472.30 L788.97,410.35 L817.23,364.26 L873.76,314.62 L930.29,303.80 L986.82,303.24" stroke="#2ca02c" stroke-width="2.0" fill="none" stroke-linejoin="round" stroke-linecap="square" clip-path="url(#c7)"/>
<rect x="748.0" y="288.6" width="279.80" height="196.00" fill="none" stroke="#000" stroke-width="1.07"/>
<text x="756.47" y="503.90" font-size="13.83" textLength="8.46" lengthAdjust="spacingAndGlyphs" fill="#000">0</text>
<text x="808.77" y="503.90" font-size="13.83" textLength="16.92" lengthAdjust="spacingAndGlyphs" fill="#000">10</text>
<text x="865.30" y="503.90" font-size="13.83" textLength="16.92" lengthAdjust="spacingAndGlyphs" fill="#000">20</text>
<text x="921.83" y="503.90" font-size="13.83" textLength="16.92" lengthAdjust="spacingAndGlyphs" fill="#000">30</text>
<text x="978.36" y="503.90" font-size="13.83" textLength="16.92" lengthAdjust="spacingAndGlyphs" fill="#000">40</text>
<text x="717.52" y="479.85" font-size="13.83" textLength="21.15" lengthAdjust="spacingAndGlyphs" fill="#000">0.0</text>
<text x="717.52" y="442.53" font-size="13.83" textLength="21.15" lengthAdjust="spacingAndGlyphs" fill="#000">0.2</text>
<text x="717.52" y="405.21" font-size="13.83" textLength="21.15" lengthAdjust="spacingAndGlyphs" fill="#000">0.4</text>
<text x="717.52" y="367.89" font-size="13.83" textLength="21.15" lengthAdjust="spacingAndGlyphs" fill="#000">0.6</text>
<text x="717.52" y="330.57" font-size="13.83" textLength="21.15" lengthAdjust="spacingAndGlyphs" fill="#000">0.8</text>
<path d="M760.70,484.60v4.67M817.23,484.60v4.67M873.76,484.60v4.67M930.29,484.60v4.67M986.82,484.60v4.67M748.00,475.10h-4.67M748.00,437.78h-4.67M748.00,400.46h-4.67M748.00,363.14h-4.67M748.00,325.82h-4.67" stroke="#000" stroke-width="1.07"/>
<text x="821.78" y="522.30" font-size="13.83" textLength="132.24" lengthAdjust="spacingAndGlyphs" fill="#000">Number of peptides</text>
<text x="853.86" y="410.30" font-size="12.38" textLength="49.27" lengthAdjust="spacingAndGlyphs" fill="#000">Random</text>
<text x="799.56" y="471.70" font-size="12.38" textLength="33.76" lengthAdjust="spacingAndGlyphs" fill="#000">Poran</text>
<text x="816.46" y="479.50" font-size="12.38" textLength="23.91" lengthAdjust="spacingAndGlyphs" fill="#000">Fast</text>
<text x="750.36" y="485.10" font-size="12.38" textLength="42.73" lengthAdjust="spacingAndGlyphs" fill="#000">Baruah</text>
<text x="764.96" y="485.10" font-size="12.38" textLength="53.16" lengthAdjust="spacingAndGlyphs" fill="#000">Banerjee</text>
<text x="771.38" y="485.10" font-size="12.38" textLength="33.50" lengthAdjust="spacingAndGlyphs" fill="#000">Singh</text>
<text x="770.03" y="485.10" font-size="12.38" textLength="42.15" lengthAdjust="spacingAndGlyphs" fill="#000">Ahmed</text>
<text x="774.96" y="485.10" font-size="12.38" textLength="30.42" lengthAdjust="spacingAndGlyphs" fill="#000">Mitra</text>
<text x="779.50" y="485.10" font-size="12.38" textLength="40.44" lengthAdjust="spacingAndGlyphs" fill="#000">Qamar</text>
<text x="767.65" y="485.10" font-size="12.38" textLength="82.51" lengthAdjust="spacingAndGlyphs" fill="#000">Abdelmageed</text>
<text x="851.33" y="485.10" font-size="12.38" textLength="31.56" lengthAdjust="spacingAndGlyphs" fill="#000">Vashi</text>
<text x="909.33" y="485.10" font-size="12.38" textLength="44.96" lengthAdjust="spacingAndGlyphs" fill="#000">Akhand</text>
<g transform="translate(758.34,280.90)"><text x="0.00" y="0" font-size="15.18" textLength="219.32" lengthAdjust="spacingAndGlyphs">MHC2 OptiVax vs Baselines p(</text><text x="219.32" y="0" font-size="15.18" textLength="9.26" lengthAdjust="spacingAndGlyphs" font-style="italic">n</text><text x="231.65" y="0" font-size="15.18" textLength="12.23" lengthAdjust="spacingAndGlyphs">≥</text><text x="246.95" y="0" font-size="15.18" textLength="9.29" lengthAdjust="spacingAndGlyphs">8</text><text x="256.24" y="0" font-size="15.18" textLength="5.70" lengthAdjust="spacingAndGlyphs">)</text></g>
<text x="696.33" y="281.30" font-size="13.10" textLength="16.76" lengthAdjust="spacingAndGlyphs" fill="#000">(c)</text>
<g transform="translate(710.10,386.60) rotate(-90)"><text x="-75.52" y="0" font-size="13.83" textLength="112.22" lengthAdjust="spacingAndGlyphs">EvalVax-Robust (</text><text x="36.70" y="0" font-size="13.83" textLength="8.43" lengthAdjust="spacingAndGlyphs" font-style="italic">n</text><text x="47.93" y="0" font-size="13.83" textLength="11.15" lengthAdjust="spacingAndGlyphs">≥</text><text x="61.87" y="0" font-size="13.83" textLength="8.46" lengthAdjust="spacingAndGlyphs">8</text><text x="70.33" y="0" font-size="13.83" textLength="5.19" lengthAdjust="spacingAndGlyphs">)</text></g>
<clipPath id="c8"><rect x="1090.3" y="289.1" width="259.9000000000001" height="194.79999999999995"/></clipPath>
<path d="M1199.27,435.91L1204.47,441.11M1199.27,441.11L1204.47,435.91M1262.28,460.82L1267.48,466.02M1262.28,466.02L1267.48,460.82M1115.25,471.80L1120.45,477.00M1115.25,477.00L1120.45,471.80M1125.76,467.65L1130.95,472.85M1125.76,472.85L1130.95,467.65M1136.26,464.68L1141.46,469.88M1136.26,469.88L1141.46,464.68M1146.76,457.56L1151.96,462.76M1146.76,462.76L1151.96,457.56M1152.01,468.54L1157.21,473.74M1152.01,473.74L1157.21,468.54M1152.01,465.63L1157.21,470.83M1152.01,470.83L1157.21,465.63M1157.26,463.61L1162.46,468.81M1157.26,468.81L1162.46,463.61M1167.76,455.78L1172.96,460.98M1167.76,460.98L1172.96,455.78M1204.52,467.65L1209.72,472.85M1204.52,472.85L1209.72,467.65M1125.76,470.61L1130.95,475.81M1125.76,475.81L1130.95,470.61" stroke="#ff0000" stroke-width="1.9" fill="none" clip-path="url(#c8)"/>
<path d="M1102.10,474.40 L1107.35,464.91 L1112.60,459.57 L1123.10,456.30 L1128.36,448.41 L1154.61,422.60 L1160.91,411.69 L1170.36,404.81 L1180.87,398.46 L1191.37,393.71 L1196.62,388.96 L1202.18,390.92 L1207.12,386.00 L1212.37,384.99 L1223.92,377.10 L1243.88,359.89 L1249.13,358.71 L1254.38,354.55 L1259.63,352.77 L1264.88,348.62 L1272.49,346.25 L1284.83,343.28 L1297.44,338.53 L1306.89,337.35 L1317.92,331.12 L1323.17,329.63 L1329.47,326.31 L1338.39,323.70" stroke="#1f77b4" stroke-width="2.0" fill="none" stroke-linejoin="round" stroke-linecap="square" clip-path="url(#c8)"/>
<path d="M1102.10,474.40 L1112.60,456.60 L1128.36,435.48 L1154.61,410.92 L1180.87,405.81 L1207.12,388.96 L1259.63,359.48 L1306.89,340.91" stroke="#ff7f0e" stroke-width="2.0" fill="none" stroke-linejoin="round" stroke-linecap="square" clip-path="url(#c8)"/>
<path d="M1102.10,474.40 L1112.60,456.01 L1128.36,436.43 L1154.61,422.60 L1180.87,412.70 L1201.87,393.71 L1207.12,392.23 L1259.63,332.60 L1312.14,297.89" stroke="#2ca02c" stroke-width="2.0" fill="none" stroke-linejoin="round" stroke-linecap="square" clip-path="url(#c8)"/>
<rect x="1090.3" y="289.1" width="259.90" height="194.80" fill="none" stroke="#000" stroke-width="1.07"/>
<text x="1097.96" y="504.00" font-size="13.52" textLength="8.27" lengthAdjust="spacingAndGlyphs" fill="#000">0</text>
<text x="1146.34" y="504.00" font-size="13.52" textLength="16.54" lengthAdjust="spacingAndGlyphs" fill="#000">10</text>
<text x="1198.85" y="504.00" font-size="13.52" textLength="16.54" lengthAdjust="spacingAndGlyphs" fill="#000">20</text>
<text x="1251.36" y="504.00" font-size="13.52" textLength="16.54" lengthAdjust="spacingAndGlyphs" fill="#000">30</text>
<text x="1303.87" y="504.00" font-size="13.52" textLength="16.54" lengthAdjust="spacingAndGlyphs" fill="#000">40</text>
<text x="1072.70" y="479.15" font-size="13.52" textLength="8.27" lengthAdjust="spacingAndGlyphs" fill="#000">0</text>
<text x="1072.70" y="449.48" font-size="13.52" textLength="8.27" lengthAdjust="spacingAndGlyphs" fill="#000">5</text>
<text x="1064.43" y="419.82" font-size="13.52" textLength="16.54" lengthAdjust="spacingAndGlyphs" fill="#000">10</text>
<text x="1064.43" y="390.15" font-size="13.52" textLength="16.54" lengthAdjust="spacingAndGlyphs" fill="#000">15</text>
<text x="1064.43" y="360.49" font-size="13.52" textLength="16.54" lengthAdjust="spacingAndGlyphs" fill="#000">20</text>
<text x="1064.43" y="330.82" font-size="13.52" textLength="16.54" lengthAdjust="spacingAndGlyphs" fill="#000">25</text>
<text x="1064.43" y="301.16" font-size="13.52" textLength="16.54" lengthAdjust="spacingAndGlyphs" fill="#000">30</text>
<path d="M1102.10,483.90v4.67M1154.61,483.90v4.67M1207.12,483.90v4.67M1259.63,483.90v4.67M1312.14,483.90v4.67M1090.30,474.40h-4.67M1090.30,444.73h-4.67M1090.30,415.07h-4.67M1090.30,385.40h-4.67M1090.30,355.74h-4.67M1090.30,326.07h-4.67M1090.30,296.41h-4.67" stroke="#000" stroke-width="1.07"/>
<text x="1155.62" y="521.20" font-size="13.52" textLength="129.25" lengthAdjust="spacingAndGlyphs" fill="#000">Number of peptides</text>
<text x="1192.32" y="436.70" font-size="9.67" textLength="38.50" lengthAdjust="spacingAndGlyphs" fill="#000">Random</text>
<text x="1098.22" y="472.00" font-size="9.67" textLength="33.39" lengthAdjust="spacingAndGlyphs" fill="#000">Baruah</text>
<text x="1123.76" y="476.90" font-size="9.67" textLength="32.94" lengthAdjust="spacingAndGlyphs" fill="#000">Ahmed</text>
<text x="1136.82" y="459.10" font-size="9.67" textLength="41.55" lengthAdjust="spacingAndGlyphs" fill="#000">Banerjee</text>
<text x="1163.62" y="458.10" font-size="9.67" textLength="18.69" lengthAdjust="spacingAndGlyphs" fill="#000">Fast</text>
<text x="1130.25" y="467.00" font-size="9.67" textLength="26.18" lengthAdjust="spacingAndGlyphs" fill="#000">Singh</text>
<text x="1154.14" y="464.00" font-size="9.67" textLength="31.60" lengthAdjust="spacingAndGlyphs" fill="#000">Qamar</text>
<text x="1142.66" y="469.00" font-size="9.67" textLength="64.48" lengthAdjust="spacingAndGlyphs" fill="#000">Abdelmageed</text>
<text x="1199.06" y="469.00" font-size="9.67" textLength="24.66" lengthAdjust="spacingAndGlyphs" fill="#000">Vashi</text>
<text x="1126.22" y="476.80" font-size="9.67" textLength="23.78" lengthAdjust="spacingAndGlyphs" fill="#000">Mitra</text>
<text x="1149.22" y="466.80" font-size="9.67" textLength="26.38" lengthAdjust="spacingAndGlyphs" fill="#000">Poran</text>
<text x="1255.56" y="461.60" font-size="9.67" textLength="35.14" lengthAdjust="spacingAndGlyphs" fill="#000">Akhand</text>
<rect x="1095.3" y="294.4" width="139.30" height="65.60" rx="2.5" fill="#fff" fill-opacity="0.8" stroke="#cccccc" stroke-width="1.07"/>
<text x="1128.32" y="306.50" font-size="10.92" textLength="84.69" lengthAdjust="spacingAndGlyphs" fill="#000">OptiVax_version</text>
<path d="M1099.30,318.50H1121.40" stroke="#1f77b4" stroke-width="2.0"/>
<text x="1127.85" y="322.40" font-size="10.92" textLength="83.24" lengthAdjust="spacingAndGlyphs" fill="#000">MarginalGreedy</text>
<path d="M1099.30,334.30H1121.40" stroke="#ff7f0e" stroke-width="2.0"/>
<text x="1127.85" y="338.20" font-size="10.92" textLength="101.70" lengthAdjust="spacingAndGlyphs" fill="#000">ILP_Haplotype_n=5</text>
<path d="M1099.30,350.20H1121.40" stroke="#2ca02c" stroke-width="2.0"/>
<text x="1127.85" y="354.10" font-size="10.92" textLength="101.70" lengthAdjust="spacingAndGlyphs" fill="#000">ILP_Haplotype_n=3</text>
<text x="1092.68" y="281.00" font-size="13.73" textLength="258.94" lengthAdjust="spacingAndGlyphs" fill="#000">MHC2 OptiVax vs Baselines (Exp.#hits)</text>
<text x="1038.23" y="281.30" font-size="13.10" textLength="17.83" lengthAdjust="spacingAndGlyphs" fill="#000">(d)</text>
<g transform="translate(1056.10,386.50) rotate(-90)"><text x="-73.70" y="0" font-size="13.52" textLength="147.40" lengthAdjust="spacingAndGlyphs">Exp.#peptide-HLA hits</text></g>
</svg></body></html>
